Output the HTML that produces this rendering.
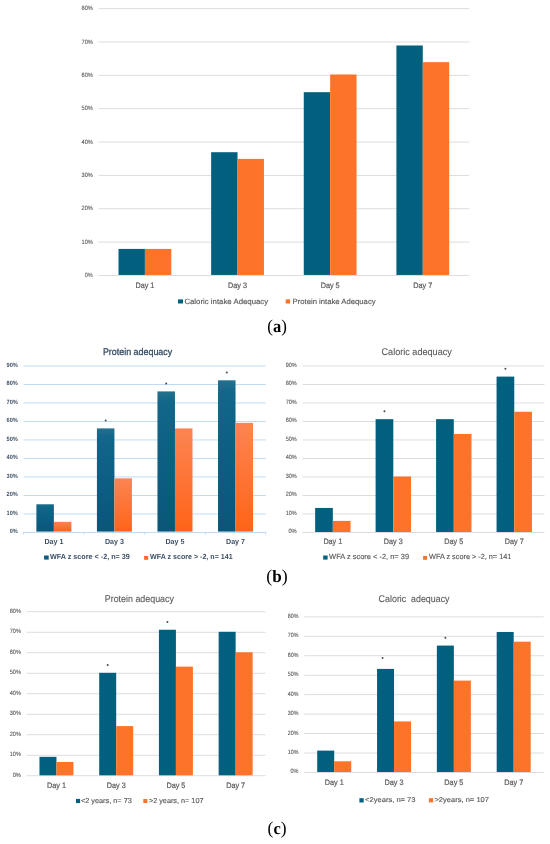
<!DOCTYPE html>
<html><head><meta charset="utf-8"><style>
html,body{margin:0;padding:0;background:#fff;}
body{width:550px;height:844px;overflow:hidden;font-family:"Liberation Sans", sans-serif;}
svg{display:block;will-change:transform;filter:blur(0.35px);text-rendering:geometricPrecision;}
</style></head><body>
<svg width="550" height="844" viewBox="0 0 550 844">
<defs>
<linearGradient id="gb" x1="0" y1="0" x2="0" y2="1"><stop offset="0" stop-color="#24708f"/><stop offset="0.08" stop-color="#12668a"/><stop offset="0.5" stop-color="#0c5f83"/><stop offset="1" stop-color="#0a5679"/></linearGradient>
<linearGradient id="go" x1="0" y1="0" x2="0" y2="1"><stop offset="0" stop-color="#fc8452"/><stop offset="1" stop-color="#ff6418"/></linearGradient>
</defs>
<rect x="98.60" y="275.00" width="370.50" height="0.9" fill="#d9d9d9"/>
<text x="92.80" y="277.00" font-size="6.2" fill="#595959" text-anchor="end" font-weight="normal" font-family='"Liberation Sans", sans-serif' textLength="8.00" lengthAdjust="spacingAndGlyphs" stroke="#595959" stroke-width="0.12">0%</text>
<rect x="98.60" y="241.65" width="370.50" height="0.9" fill="#d9d9d9"/>
<text x="92.80" y="243.65" font-size="6.2" fill="#595959" text-anchor="end" font-weight="normal" font-family='"Liberation Sans", sans-serif' textLength="11.30" lengthAdjust="spacingAndGlyphs" stroke="#595959" stroke-width="0.12">10%</text>
<rect x="98.60" y="208.30" width="370.50" height="0.9" fill="#d9d9d9"/>
<text x="92.80" y="210.30" font-size="6.2" fill="#595959" text-anchor="end" font-weight="normal" font-family='"Liberation Sans", sans-serif' textLength="11.30" lengthAdjust="spacingAndGlyphs" stroke="#595959" stroke-width="0.12">20%</text>
<rect x="98.60" y="174.95" width="370.50" height="0.9" fill="#d9d9d9"/>
<text x="92.80" y="176.95" font-size="6.2" fill="#595959" text-anchor="end" font-weight="normal" font-family='"Liberation Sans", sans-serif' textLength="11.30" lengthAdjust="spacingAndGlyphs" stroke="#595959" stroke-width="0.12">30%</text>
<rect x="98.60" y="141.60" width="370.50" height="0.9" fill="#d9d9d9"/>
<text x="92.80" y="143.60" font-size="6.2" fill="#595959" text-anchor="end" font-weight="normal" font-family='"Liberation Sans", sans-serif' textLength="11.30" lengthAdjust="spacingAndGlyphs" stroke="#595959" stroke-width="0.12">40%</text>
<rect x="98.60" y="108.25" width="370.50" height="0.9" fill="#d9d9d9"/>
<text x="92.80" y="110.25" font-size="6.2" fill="#595959" text-anchor="end" font-weight="normal" font-family='"Liberation Sans", sans-serif' textLength="11.30" lengthAdjust="spacingAndGlyphs" stroke="#595959" stroke-width="0.12">50%</text>
<rect x="98.60" y="74.90" width="370.50" height="0.9" fill="#d9d9d9"/>
<text x="92.80" y="76.90" font-size="6.2" fill="#595959" text-anchor="end" font-weight="normal" font-family='"Liberation Sans", sans-serif' textLength="11.30" lengthAdjust="spacingAndGlyphs" stroke="#595959" stroke-width="0.12">60%</text>
<rect x="98.60" y="41.55" width="370.50" height="0.9" fill="#d9d9d9"/>
<text x="92.80" y="43.55" font-size="6.2" fill="#595959" text-anchor="end" font-weight="normal" font-family='"Liberation Sans", sans-serif' textLength="11.30" lengthAdjust="spacingAndGlyphs" stroke="#595959" stroke-width="0.12">70%</text>
<rect x="98.60" y="8.20" width="370.50" height="0.9" fill="#d9d9d9"/>
<text x="92.80" y="10.20" font-size="6.2" fill="#595959" text-anchor="end" font-weight="normal" font-family='"Liberation Sans", sans-serif' textLength="11.30" lengthAdjust="spacingAndGlyphs" stroke="#595959" stroke-width="0.12">80%</text>
<rect x="118.51" y="248.92" width="26.40" height="26.03" fill="#02607f"/>
<rect x="144.91" y="248.92" width="26.40" height="26.03" fill="#fd7329"/>
<text x="144.91" y="287.60" font-size="7.9" fill="#595959" text-anchor="middle" font-weight="normal" font-family='"Liberation Sans", sans-serif' textLength="19.00" lengthAdjust="spacingAndGlyphs" stroke="#595959" stroke-width="0.2">Day 1</text>
<rect x="211.14" y="152.21" width="26.40" height="122.74" fill="#02607f"/>
<rect x="237.54" y="158.88" width="26.40" height="116.07" fill="#fd7329"/>
<text x="237.54" y="287.60" font-size="7.9" fill="#595959" text-anchor="middle" font-weight="normal" font-family='"Liberation Sans", sans-serif' textLength="19.00" lengthAdjust="spacingAndGlyphs" stroke="#595959" stroke-width="0.2">Day 3</text>
<rect x="303.76" y="92.18" width="26.40" height="182.77" fill="#02607f"/>
<rect x="330.16" y="74.50" width="26.40" height="200.45" fill="#fd7329"/>
<text x="330.16" y="287.60" font-size="7.9" fill="#595959" text-anchor="middle" font-weight="normal" font-family='"Liberation Sans", sans-serif' textLength="19.00" lengthAdjust="spacingAndGlyphs" stroke="#595959" stroke-width="0.2">Day 5</text>
<rect x="396.39" y="45.49" width="26.40" height="229.46" fill="#02607f"/>
<rect x="422.79" y="62.16" width="26.40" height="212.79" fill="#fd7329"/>
<text x="422.79" y="287.60" font-size="7.9" fill="#595959" text-anchor="middle" font-weight="normal" font-family='"Liberation Sans", sans-serif' textLength="19.00" lengthAdjust="spacingAndGlyphs" stroke="#595959" stroke-width="0.2">Day 7</text>
<rect x="178.00" y="299.40" width="5.00" height="4.10" fill="#02607f"/>
<text x="184.40" y="303.80" font-size="7.6" fill="#595959" text-anchor="start" font-weight="normal" font-family='"Liberation Sans", sans-serif' textLength="83.80" lengthAdjust="spacingAndGlyphs" stroke="#595959" stroke-width="0.15">Caloric intake Adequacy</text>
<rect x="285.70" y="299.40" width="4.40" height="4.10" fill="#fd7329"/>
<text x="292.50" y="303.80" font-size="7.6" fill="#595959" text-anchor="start" font-weight="normal" font-family='"Liberation Sans", sans-serif' textLength="83.10" lengthAdjust="spacingAndGlyphs" stroke="#595959" stroke-width="0.15">Protein intake Adequacy</text>
<rect x="23.60" y="532.00" width="242.20" height="0.9" fill="#bad7f2"/>
<text x="17.80" y="533.40" font-size="6.2" fill="#3d4f66" text-anchor="end" font-weight="bold" font-family='"Liberation Sans", sans-serif' textLength="8.00" lengthAdjust="spacingAndGlyphs">0%</text>
<rect x="23.60" y="513.50" width="242.20" height="0.9" fill="#bad7f2"/>
<text x="17.80" y="514.90" font-size="6.2" fill="#3d4f66" text-anchor="end" font-weight="bold" font-family='"Liberation Sans", sans-serif' textLength="11.30" lengthAdjust="spacingAndGlyphs">10%</text>
<rect x="23.60" y="495.00" width="242.20" height="0.9" fill="#bad7f2"/>
<text x="17.80" y="496.40" font-size="6.2" fill="#3d4f66" text-anchor="end" font-weight="bold" font-family='"Liberation Sans", sans-serif' textLength="11.30" lengthAdjust="spacingAndGlyphs">20%</text>
<rect x="23.60" y="476.50" width="242.20" height="0.9" fill="#bad7f2"/>
<text x="17.80" y="477.90" font-size="6.2" fill="#3d4f66" text-anchor="end" font-weight="bold" font-family='"Liberation Sans", sans-serif' textLength="11.30" lengthAdjust="spacingAndGlyphs">30%</text>
<rect x="23.60" y="458.00" width="242.20" height="0.9" fill="#bad7f2"/>
<text x="17.80" y="459.40" font-size="6.2" fill="#3d4f66" text-anchor="end" font-weight="bold" font-family='"Liberation Sans", sans-serif' textLength="11.30" lengthAdjust="spacingAndGlyphs">40%</text>
<rect x="23.60" y="439.50" width="242.20" height="0.9" fill="#bad7f2"/>
<text x="17.80" y="440.90" font-size="6.2" fill="#3d4f66" text-anchor="end" font-weight="bold" font-family='"Liberation Sans", sans-serif' textLength="11.30" lengthAdjust="spacingAndGlyphs">50%</text>
<rect x="23.60" y="421.00" width="242.20" height="0.9" fill="#bad7f2"/>
<text x="17.80" y="422.40" font-size="6.2" fill="#3d4f66" text-anchor="end" font-weight="bold" font-family='"Liberation Sans", sans-serif' textLength="11.30" lengthAdjust="spacingAndGlyphs">60%</text>
<rect x="23.60" y="402.50" width="242.20" height="0.9" fill="#bad7f2"/>
<text x="17.80" y="403.90" font-size="6.2" fill="#3d4f66" text-anchor="end" font-weight="bold" font-family='"Liberation Sans", sans-serif' textLength="11.30" lengthAdjust="spacingAndGlyphs">70%</text>
<rect x="23.60" y="384.00" width="242.20" height="0.9" fill="#bad7f2"/>
<text x="17.80" y="385.40" font-size="6.2" fill="#3d4f66" text-anchor="end" font-weight="bold" font-family='"Liberation Sans", sans-serif' textLength="11.30" lengthAdjust="spacingAndGlyphs">80%</text>
<rect x="23.60" y="365.50" width="242.20" height="0.9" fill="#bad7f2"/>
<text x="17.80" y="366.90" font-size="6.2" fill="#3d4f66" text-anchor="end" font-weight="bold" font-family='"Liberation Sans", sans-serif' textLength="11.30" lengthAdjust="spacingAndGlyphs">90%</text>
<rect x="23.20" y="531.70" width="0.8" height="3" fill="#bad7f2"/>
<rect x="83.75" y="531.70" width="0.8" height="3" fill="#bad7f2"/>
<rect x="144.30" y="531.70" width="0.8" height="3" fill="#bad7f2"/>
<rect x="204.85" y="531.70" width="0.8" height="3" fill="#bad7f2"/>
<rect x="265.40" y="531.70" width="0.8" height="3" fill="#bad7f2"/>
<rect x="36.38" y="504.25" width="17.50" height="27.35" fill="url(#gb)"/>
<rect x="53.88" y="521.83" width="17.50" height="9.77" fill="url(#go)"/>
<text x="53.88" y="544.00" font-size="7.4" fill="#3d4f66" text-anchor="middle" font-weight="bold" font-family='"Liberation Sans", sans-serif' textLength="19.00" lengthAdjust="spacingAndGlyphs">Day 1</text>
<rect x="96.93" y="428.40" width="17.50" height="103.20" fill="url(#gb)"/>
<rect x="114.43" y="478.35" width="17.50" height="53.25" fill="url(#go)"/>
<circle cx="105.68" cy="420.60" r="1.0" fill="#4a4a4a"/>
<text x="114.43" y="544.00" font-size="7.4" fill="#3d4f66" text-anchor="middle" font-weight="bold" font-family='"Liberation Sans", sans-serif' textLength="19.00" lengthAdjust="spacingAndGlyphs">Day 3</text>
<rect x="157.47" y="391.40" width="17.50" height="140.20" fill="url(#gb)"/>
<rect x="174.97" y="428.40" width="17.50" height="103.20" fill="url(#go)"/>
<circle cx="166.22" cy="383.60" r="1.0" fill="#4a4a4a"/>
<text x="174.97" y="544.00" font-size="7.4" fill="#3d4f66" text-anchor="middle" font-weight="bold" font-family='"Liberation Sans", sans-serif' textLength="19.00" lengthAdjust="spacingAndGlyphs">Day 5</text>
<rect x="218.03" y="380.30" width="17.50" height="151.30" fill="url(#gb)"/>
<rect x="235.53" y="422.85" width="17.50" height="108.75" fill="url(#go)"/>
<circle cx="226.78" cy="372.50" r="1.0" fill="#4a4a4a"/>
<text x="235.53" y="544.00" font-size="7.4" fill="#3d4f66" text-anchor="middle" font-weight="bold" font-family='"Liberation Sans", sans-serif' textLength="19.00" lengthAdjust="spacingAndGlyphs">Day 7</text>
<text x="102.90" y="354.90" font-size="9.7" fill="#2f4560" text-anchor="start" font-weight="normal" font-family='"Liberation Sans", sans-serif' textLength="69.30" lengthAdjust="spacingAndGlyphs" stroke="#2f4560" stroke-width="0.25">Protein adequacy</text>
<rect x="44.10" y="555.50" width="4.60" height="4.10" fill="#0d5a7c"/>
<text x="50.00" y="559.00" font-size="7.4" fill="#3d4f66" text-anchor="start" font-weight="bold" font-family='"Liberation Sans", sans-serif' textLength="79.80" lengthAdjust="spacingAndGlyphs">WFA z score &lt; -2, n= 39</text>
<rect x="144.10" y="556.00" width="4.00" height="3.80" fill="#fb6a22"/>
<text x="150.00" y="559.00" font-size="7.4" fill="#3d4f66" text-anchor="start" font-weight="bold" font-family='"Liberation Sans", sans-serif' textLength="82.60" lengthAdjust="spacingAndGlyphs">WFA z score &gt; -2, n= 141</text>
<rect x="302.60" y="532.00" width="241.90" height="0.9" fill="#d9d9d9"/>
<text x="296.80" y="533.40" font-size="6.2" fill="#595959" text-anchor="end" font-weight="normal" font-family='"Liberation Sans", sans-serif' textLength="8.40" lengthAdjust="spacingAndGlyphs" stroke="#595959" stroke-width="0.12">0%</text>
<rect x="302.60" y="513.50" width="241.90" height="0.9" fill="#d9d9d9"/>
<text x="296.80" y="514.90" font-size="6.2" fill="#595959" text-anchor="end" font-weight="normal" font-family='"Liberation Sans", sans-serif' textLength="11.10" lengthAdjust="spacingAndGlyphs" stroke="#595959" stroke-width="0.12">10%</text>
<rect x="302.60" y="495.00" width="241.90" height="0.9" fill="#d9d9d9"/>
<text x="296.80" y="496.40" font-size="6.2" fill="#595959" text-anchor="end" font-weight="normal" font-family='"Liberation Sans", sans-serif' textLength="11.10" lengthAdjust="spacingAndGlyphs" stroke="#595959" stroke-width="0.12">20%</text>
<rect x="302.60" y="476.50" width="241.90" height="0.9" fill="#d9d9d9"/>
<text x="296.80" y="477.90" font-size="6.2" fill="#595959" text-anchor="end" font-weight="normal" font-family='"Liberation Sans", sans-serif' textLength="11.10" lengthAdjust="spacingAndGlyphs" stroke="#595959" stroke-width="0.12">30%</text>
<rect x="302.60" y="458.00" width="241.90" height="0.9" fill="#d9d9d9"/>
<text x="296.80" y="459.40" font-size="6.2" fill="#595959" text-anchor="end" font-weight="normal" font-family='"Liberation Sans", sans-serif' textLength="11.10" lengthAdjust="spacingAndGlyphs" stroke="#595959" stroke-width="0.12">40%</text>
<rect x="302.60" y="439.50" width="241.90" height="0.9" fill="#d9d9d9"/>
<text x="296.80" y="440.90" font-size="6.2" fill="#595959" text-anchor="end" font-weight="normal" font-family='"Liberation Sans", sans-serif' textLength="11.10" lengthAdjust="spacingAndGlyphs" stroke="#595959" stroke-width="0.12">50%</text>
<rect x="302.60" y="421.00" width="241.90" height="0.9" fill="#d9d9d9"/>
<text x="296.80" y="422.40" font-size="6.2" fill="#595959" text-anchor="end" font-weight="normal" font-family='"Liberation Sans", sans-serif' textLength="11.10" lengthAdjust="spacingAndGlyphs" stroke="#595959" stroke-width="0.12">60%</text>
<rect x="302.60" y="402.50" width="241.90" height="0.9" fill="#d9d9d9"/>
<text x="296.80" y="403.90" font-size="6.2" fill="#595959" text-anchor="end" font-weight="normal" font-family='"Liberation Sans", sans-serif' textLength="11.10" lengthAdjust="spacingAndGlyphs" stroke="#595959" stroke-width="0.12">70%</text>
<rect x="302.60" y="384.00" width="241.90" height="0.9" fill="#d9d9d9"/>
<text x="296.80" y="385.40" font-size="6.2" fill="#595959" text-anchor="end" font-weight="normal" font-family='"Liberation Sans", sans-serif' textLength="11.10" lengthAdjust="spacingAndGlyphs" stroke="#595959" stroke-width="0.12">80%</text>
<rect x="302.60" y="365.50" width="241.90" height="0.9" fill="#d9d9d9"/>
<text x="296.80" y="366.90" font-size="6.2" fill="#595959" text-anchor="end" font-weight="normal" font-family='"Liberation Sans", sans-serif' textLength="11.10" lengthAdjust="spacingAndGlyphs" stroke="#595959" stroke-width="0.12">90%</text>
<rect x="315.14" y="507.95" width="17.70" height="24.05" fill="#02607f"/>
<rect x="332.84" y="520.90" width="17.70" height="11.10" fill="#fd7329"/>
<text x="332.84" y="543.90" font-size="7.9" fill="#595959" text-anchor="middle" font-weight="normal" font-family='"Liberation Sans", sans-serif' textLength="18.90" lengthAdjust="spacingAndGlyphs" stroke="#595959" stroke-width="0.2">Day 1</text>
<rect x="375.61" y="419.15" width="17.70" height="112.85" fill="#02607f"/>
<rect x="393.31" y="476.50" width="17.70" height="55.50" fill="#fd7329"/>
<circle cx="384.46" cy="411.35" r="1.0" fill="#4a4a4a"/>
<text x="393.31" y="543.90" font-size="7.9" fill="#595959" text-anchor="middle" font-weight="normal" font-family='"Liberation Sans", sans-serif' textLength="18.90" lengthAdjust="spacingAndGlyphs" stroke="#595959" stroke-width="0.2">Day 3</text>
<rect x="436.09" y="419.15" width="17.70" height="112.85" fill="#02607f"/>
<rect x="453.79" y="433.95" width="17.70" height="98.05" fill="#fd7329"/>
<text x="453.79" y="543.90" font-size="7.9" fill="#595959" text-anchor="middle" font-weight="normal" font-family='"Liberation Sans", sans-serif' textLength="18.90" lengthAdjust="spacingAndGlyphs" stroke="#595959" stroke-width="0.2">Day 5</text>
<rect x="496.56" y="376.60" width="17.70" height="155.40" fill="#02607f"/>
<rect x="514.26" y="411.75" width="17.70" height="120.25" fill="#fd7329"/>
<circle cx="505.41" cy="368.80" r="1.0" fill="#4a4a4a"/>
<text x="514.26" y="543.90" font-size="7.9" fill="#595959" text-anchor="middle" font-weight="normal" font-family='"Liberation Sans", sans-serif' textLength="18.90" lengthAdjust="spacingAndGlyphs" stroke="#595959" stroke-width="0.2">Day 7</text>
<text x="381.50" y="355.00" font-size="9.7" fill="#595959" text-anchor="start" font-weight="normal" font-family='"Liberation Sans", sans-serif' textLength="70.30" lengthAdjust="spacingAndGlyphs" stroke="#595959" stroke-width="0.1">Caloric adequacy</text>
<rect x="323.20" y="555.50" width="4.40" height="4.10" fill="#02607f"/>
<text x="329.10" y="559.00" font-size="7.4" fill="#595959" text-anchor="start" font-weight="normal" font-family='"Liberation Sans", sans-serif' textLength="80.00" lengthAdjust="spacingAndGlyphs" stroke="#595959" stroke-width="0.15">WFA z score &lt; -2, n= 39</text>
<rect x="423.10" y="556.00" width="4.00" height="3.80" fill="#fd7329"/>
<text x="429.00" y="559.00" font-size="7.4" fill="#595959" text-anchor="start" font-weight="normal" font-family='"Liberation Sans", sans-serif' textLength="82.30" lengthAdjust="spacingAndGlyphs" stroke="#595959" stroke-width="0.15">WFA z score &gt; -2, n= 141</text>
<rect x="26.60" y="775.30" width="238.90" height="0.9" fill="#d9d9d9"/>
<text x="20.90" y="776.70" font-size="6.2" fill="#595959" text-anchor="end" font-weight="normal" font-family='"Liberation Sans", sans-serif' textLength="8.20" lengthAdjust="spacingAndGlyphs" stroke="#595959" stroke-width="0.12">0%</text>
<rect x="26.60" y="754.80" width="238.90" height="0.9" fill="#d9d9d9"/>
<text x="20.90" y="756.20" font-size="6.2" fill="#595959" text-anchor="end" font-weight="normal" font-family='"Liberation Sans", sans-serif' textLength="11.20" lengthAdjust="spacingAndGlyphs" stroke="#595959" stroke-width="0.12">10%</text>
<rect x="26.60" y="734.30" width="238.90" height="0.9" fill="#d9d9d9"/>
<text x="20.90" y="735.70" font-size="6.2" fill="#595959" text-anchor="end" font-weight="normal" font-family='"Liberation Sans", sans-serif' textLength="11.20" lengthAdjust="spacingAndGlyphs" stroke="#595959" stroke-width="0.12">20%</text>
<rect x="26.60" y="713.80" width="238.90" height="0.9" fill="#d9d9d9"/>
<text x="20.90" y="715.20" font-size="6.2" fill="#595959" text-anchor="end" font-weight="normal" font-family='"Liberation Sans", sans-serif' textLength="11.20" lengthAdjust="spacingAndGlyphs" stroke="#595959" stroke-width="0.12">30%</text>
<rect x="26.60" y="693.30" width="238.90" height="0.9" fill="#d9d9d9"/>
<text x="20.90" y="694.70" font-size="6.2" fill="#595959" text-anchor="end" font-weight="normal" font-family='"Liberation Sans", sans-serif' textLength="11.20" lengthAdjust="spacingAndGlyphs" stroke="#595959" stroke-width="0.12">40%</text>
<rect x="26.60" y="672.80" width="238.90" height="0.9" fill="#d9d9d9"/>
<text x="20.90" y="674.20" font-size="6.2" fill="#595959" text-anchor="end" font-weight="normal" font-family='"Liberation Sans", sans-serif' textLength="11.20" lengthAdjust="spacingAndGlyphs" stroke="#595959" stroke-width="0.12">50%</text>
<rect x="26.60" y="652.30" width="238.90" height="0.9" fill="#d9d9d9"/>
<text x="20.90" y="653.70" font-size="6.2" fill="#595959" text-anchor="end" font-weight="normal" font-family='"Liberation Sans", sans-serif' textLength="11.20" lengthAdjust="spacingAndGlyphs" stroke="#595959" stroke-width="0.12">60%</text>
<rect x="26.60" y="631.80" width="238.90" height="0.9" fill="#d9d9d9"/>
<text x="20.90" y="633.20" font-size="6.2" fill="#595959" text-anchor="end" font-weight="normal" font-family='"Liberation Sans", sans-serif' textLength="11.20" lengthAdjust="spacingAndGlyphs" stroke="#595959" stroke-width="0.12">70%</text>
<rect x="26.60" y="611.30" width="238.90" height="0.9" fill="#d9d9d9"/>
<text x="20.90" y="612.70" font-size="6.2" fill="#595959" text-anchor="end" font-weight="normal" font-family='"Liberation Sans", sans-serif' textLength="11.20" lengthAdjust="spacingAndGlyphs" stroke="#595959" stroke-width="0.12">80%</text>
<rect x="39.46" y="756.85" width="17.00" height="18.45" fill="#02607f"/>
<rect x="56.46" y="761.97" width="17.00" height="13.33" fill="#fd7329"/>
<text x="56.46" y="787.70" font-size="7.9" fill="#595959" text-anchor="middle" font-weight="normal" font-family='"Liberation Sans", sans-serif' textLength="19.00" lengthAdjust="spacingAndGlyphs" stroke="#595959" stroke-width="0.2">Day 1</text>
<rect x="99.19" y="672.80" width="17.00" height="102.50" fill="#02607f"/>
<rect x="116.19" y="726.10" width="17.00" height="49.20" fill="#fd7329"/>
<circle cx="107.69" cy="665.00" r="1.0" fill="#4a4a4a"/>
<text x="116.19" y="787.70" font-size="7.9" fill="#595959" text-anchor="middle" font-weight="normal" font-family='"Liberation Sans", sans-serif' textLength="19.00" lengthAdjust="spacingAndGlyphs" stroke="#595959" stroke-width="0.2">Day 3</text>
<rect x="158.91" y="629.75" width="17.00" height="145.55" fill="#02607f"/>
<rect x="175.91" y="666.65" width="17.00" height="108.65" fill="#fd7329"/>
<circle cx="167.41" cy="621.95" r="1.0" fill="#4a4a4a"/>
<text x="175.91" y="787.70" font-size="7.9" fill="#595959" text-anchor="middle" font-weight="normal" font-family='"Liberation Sans", sans-serif' textLength="19.00" lengthAdjust="spacingAndGlyphs" stroke="#595959" stroke-width="0.2">Day 5</text>
<rect x="218.64" y="631.80" width="17.00" height="143.50" fill="#02607f"/>
<rect x="235.64" y="652.30" width="17.00" height="123.00" fill="#fd7329"/>
<text x="235.64" y="787.70" font-size="7.9" fill="#595959" text-anchor="middle" font-weight="normal" font-family='"Liberation Sans", sans-serif' textLength="19.00" lengthAdjust="spacingAndGlyphs" stroke="#595959" stroke-width="0.2">Day 7</text>
<text x="104.80" y="601.60" font-size="9.7" fill="#595959" text-anchor="start" font-weight="normal" font-family='"Liberation Sans", sans-serif' textLength="69.10" lengthAdjust="spacingAndGlyphs" stroke="#595959" stroke-width="0.1">Protein adequacy</text>
<rect x="76.00" y="798.90" width="4.10" height="4.20" fill="#02607f"/>
<text x="80.90" y="803.10" font-size="7.2" fill="#595959" text-anchor="start" font-weight="normal" font-family='"Liberation Sans", sans-serif' textLength="50.90" lengthAdjust="spacingAndGlyphs" stroke="#595959" stroke-width="0.15">&lt;2 years, n= 73</text>
<rect x="143.30" y="799.00" width="4.10" height="4.00" fill="#fd7329"/>
<text x="148.90" y="803.10" font-size="7.2" fill="#595959" text-anchor="start" font-weight="normal" font-family='"Liberation Sans", sans-serif' textLength="54.60" lengthAdjust="spacingAndGlyphs" stroke="#595959" stroke-width="0.15">&gt;2 years, n= 107</text>
<rect x="304.30" y="772.00" width="239.30" height="0.9" fill="#d9d9d9"/>
<text x="298.40" y="773.40" font-size="6.2" fill="#595959" text-anchor="end" font-weight="normal" font-family='"Liberation Sans", sans-serif' textLength="8.00" lengthAdjust="spacingAndGlyphs" stroke="#595959" stroke-width="0.12">0%</text>
<rect x="304.30" y="752.55" width="239.30" height="0.9" fill="#d9d9d9"/>
<text x="298.40" y="753.95" font-size="6.2" fill="#595959" text-anchor="end" font-weight="normal" font-family='"Liberation Sans", sans-serif' textLength="10.70" lengthAdjust="spacingAndGlyphs" stroke="#595959" stroke-width="0.12">10%</text>
<rect x="304.30" y="733.10" width="239.30" height="0.9" fill="#d9d9d9"/>
<text x="298.40" y="734.50" font-size="6.2" fill="#595959" text-anchor="end" font-weight="normal" font-family='"Liberation Sans", sans-serif' textLength="10.70" lengthAdjust="spacingAndGlyphs" stroke="#595959" stroke-width="0.12">20%</text>
<rect x="304.30" y="713.65" width="239.30" height="0.9" fill="#d9d9d9"/>
<text x="298.40" y="715.05" font-size="6.2" fill="#595959" text-anchor="end" font-weight="normal" font-family='"Liberation Sans", sans-serif' textLength="10.70" lengthAdjust="spacingAndGlyphs" stroke="#595959" stroke-width="0.12">30%</text>
<rect x="304.30" y="694.20" width="239.30" height="0.9" fill="#d9d9d9"/>
<text x="298.40" y="695.60" font-size="6.2" fill="#595959" text-anchor="end" font-weight="normal" font-family='"Liberation Sans", sans-serif' textLength="10.70" lengthAdjust="spacingAndGlyphs" stroke="#595959" stroke-width="0.12">40%</text>
<rect x="304.30" y="674.75" width="239.30" height="0.9" fill="#d9d9d9"/>
<text x="298.40" y="676.15" font-size="6.2" fill="#595959" text-anchor="end" font-weight="normal" font-family='"Liberation Sans", sans-serif' textLength="10.70" lengthAdjust="spacingAndGlyphs" stroke="#595959" stroke-width="0.12">50%</text>
<rect x="304.30" y="655.30" width="239.30" height="0.9" fill="#d9d9d9"/>
<text x="298.40" y="656.70" font-size="6.2" fill="#595959" text-anchor="end" font-weight="normal" font-family='"Liberation Sans", sans-serif' textLength="10.70" lengthAdjust="spacingAndGlyphs" stroke="#595959" stroke-width="0.12">60%</text>
<rect x="304.30" y="635.85" width="239.30" height="0.9" fill="#d9d9d9"/>
<text x="298.40" y="637.25" font-size="6.2" fill="#595959" text-anchor="end" font-weight="normal" font-family='"Liberation Sans", sans-serif' textLength="10.70" lengthAdjust="spacingAndGlyphs" stroke="#595959" stroke-width="0.12">70%</text>
<rect x="304.30" y="616.40" width="239.30" height="0.9" fill="#d9d9d9"/>
<text x="298.40" y="617.80" font-size="6.2" fill="#595959" text-anchor="end" font-weight="normal" font-family='"Liberation Sans", sans-serif' textLength="10.70" lengthAdjust="spacingAndGlyphs" stroke="#595959" stroke-width="0.12">80%</text>
<rect x="317.21" y="750.61" width="17.00" height="21.39" fill="#02607f"/>
<rect x="334.21" y="761.30" width="17.00" height="10.70" fill="#fd7329"/>
<text x="334.21" y="785.00" font-size="7.9" fill="#595959" text-anchor="middle" font-weight="normal" font-family='"Liberation Sans", sans-serif' textLength="19.00" lengthAdjust="spacingAndGlyphs" stroke="#595959" stroke-width="0.2">Day 1</text>
<rect x="377.04" y="668.91" width="17.00" height="103.09" fill="#02607f"/>
<rect x="394.04" y="721.43" width="17.00" height="50.57" fill="#fd7329"/>
<circle cx="382.54" cy="658.12" r="1.0" fill="#4a4a4a"/>
<text x="394.04" y="785.00" font-size="7.9" fill="#595959" text-anchor="middle" font-weight="normal" font-family='"Liberation Sans", sans-serif' textLength="19.00" lengthAdjust="spacingAndGlyphs" stroke="#595959" stroke-width="0.2">Day 3</text>
<rect x="436.86" y="645.58" width="17.00" height="126.42" fill="#02607f"/>
<rect x="453.86" y="680.59" width="17.00" height="91.41" fill="#fd7329"/>
<circle cx="445.36" cy="637.78" r="1.0" fill="#4a4a4a"/>
<text x="453.86" y="785.00" font-size="7.9" fill="#595959" text-anchor="middle" font-weight="normal" font-family='"Liberation Sans", sans-serif' textLength="19.00" lengthAdjust="spacingAndGlyphs" stroke="#595959" stroke-width="0.2">Day 5</text>
<rect x="496.69" y="631.96" width="17.00" height="140.04" fill="#02607f"/>
<rect x="513.69" y="641.68" width="17.00" height="130.32" fill="#fd7329"/>
<text x="513.69" y="785.00" font-size="7.9" fill="#595959" text-anchor="middle" font-weight="normal" font-family='"Liberation Sans", sans-serif' textLength="19.00" lengthAdjust="spacingAndGlyphs" stroke="#595959" stroke-width="0.2">Day 7</text>
<text x="378.60" y="601.60" font-size="9.7" fill="#595959" text-anchor="start" font-weight="normal" font-family='"Liberation Sans", sans-serif' textLength="27.70" lengthAdjust="spacingAndGlyphs" stroke="#595959" stroke-width="0.1">Caloric</text>
<text x="411.10" y="601.60" font-size="9.7" fill="#595959" text-anchor="start" font-weight="normal" font-family='"Liberation Sans", sans-serif' textLength="38.40" lengthAdjust="spacingAndGlyphs" stroke="#595959" stroke-width="0.1">adequacy</text>
<rect x="359.40" y="798.20" width="4.30" height="4.30" fill="#02607f"/>
<text x="365.10" y="802.40" font-size="7.0" fill="#595959" text-anchor="start" font-weight="normal" font-family='"Liberation Sans", sans-serif' textLength="50.40" lengthAdjust="spacingAndGlyphs" stroke="#595959" stroke-width="0.15">&lt;2years, n= 73</text>
<rect x="428.90" y="798.20" width="4.20" height="4.20" fill="#fd7329"/>
<text x="434.40" y="802.40" font-size="7.0" fill="#595959" text-anchor="start" font-weight="normal" font-family='"Liberation Sans", sans-serif' textLength="54.60" lengthAdjust="spacingAndGlyphs" stroke="#595959" stroke-width="0.15">&gt;2years, n= 107</text>
<text x="267.3" y="331.6" font-size="18" fill="#000" font-family='"Liberation Serif", serif' textLength="19.5" lengthAdjust="spacingAndGlyphs">(<tspan font-weight="bold" font-size="17.5">a</tspan>)</text>
<text x="266.3" y="581.7" font-size="18" fill="#000" font-family='"Liberation Serif", serif' textLength="21.4" lengthAdjust="spacingAndGlyphs">(<tspan font-weight="bold" font-size="17.3">b</tspan>)</text>
<text x="267.6" y="834.2" font-size="18" fill="#000" font-family='"Liberation Serif", serif' textLength="18.9" lengthAdjust="spacingAndGlyphs">(<tspan font-weight="bold" font-size="17.0">c</tspan>)</text>
</svg>
</body></html>
